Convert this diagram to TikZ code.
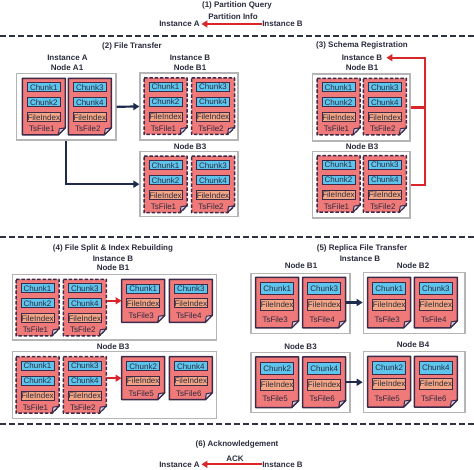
\documentclass[tikz,border=0pt]{standalone}
\usepackage{fontspec}
\setmainfont{Liberation Sans}
\usetikzlibrary{arrows.meta}
\definecolor{navy}{HTML}{1F2B4D}
\definecolor{txt}{HTML}{2A2B3D}
\definecolor{sepc}{HTML}{2D3142}
\definecolor{fileborder}{HTML}{3B2A48}
\definecolor{filefill}{HTML}{F07A7A}
\definecolor{foldfill}{HTML}{D9CBE3}
\definecolor{chunkblue}{HTML}{5EC6EE}
\definecolor{idxfill}{HTML}{F4A584}
\definecolor{redc}{HTML}{D9262B}
\definecolor{boxgray}{HTML}{B5B5B5}
\tikzset{
  ttl/.style={font=\bfseries\fontsize{8}{9}\selectfont, text=txt, inner sep=0pt},
  nodebox/.style={draw=boxgray, line width=1.2pt, fill=white, inner sep=0pt},
  fileshape/.style={draw=fileborder, fill=filefill, line width=1.5pt, line join=round},
  dashedfile/.style={dash pattern=on 3.5pt off 1.8pt},
  solidfile/.style={},
  foldstyle/.style={fill=foldfill, draw=fileborder, line width=1pt, line join=round},
  fileanchor/.style={inner sep=0pt, minimum width=43pt},
  chunkbox/.style={draw=fileborder, fill=chunkblue, line width=1pt, minimum width=33pt, minimum height=9pt, inner sep=0pt, font=\fontsize{8}{8}\selectfont, text=txt},
  idxbox/.style={chunkbox, fill=idxfill},
  tsl/.style={inner sep=0pt, font=\fontsize{8}{8}\selectfont, text=txt},
  navyarrow/.style={draw=navy, line width=2.2pt, -{Triangle[length=6pt,width=7pt]}},
  redarrow/.style={draw=redc, line width=2.2pt, -{Triangle[length=6pt,width=7pt]}},
  redline/.style={draw=redc, line width=2.2pt},
  sepline/.style={draw=sepc, line width=2pt, dash pattern=on 6pt off 3pt},
}
% generic document shape: name, x, y, height, style
\newcommand{\docshape}[5]{%
  \path[fileshape,#5] (#2,#3) -- ++(43,0) -- ++(0,#4-7) -- ++(-7,7) -- ++(-36,0) -- cycle;
  \path[foldstyle] (#2+43,#3+#4-7) -- (#2+36,#3+#4) -- (#2+37,#3+#4-6) -- cycle;
  \node[fileanchor, minimum height=#4pt] (#1) at (#2+21.5,#3+#4/2) {};
}
% full file: name, x, y, style, chunkA, chunkB, label
\newcommand{\fullfile}[7]{%
  \docshape{#1}{#2}{#3}{56.5}{#4}
  \node[chunkbox] (#1a) at (#2+21.5,#3+9) {#5};
  \node[chunkbox] (#1b) at (#2+21.5,#3+24) {#6};
  \node[idxbox] (#1i) at (#2+21.5,#3+39) {FileIndex};
  \node[tsl] (#1t) at (#2+19.5,#3+50.5) {#7};
}
% split file (section 4): name, x, y, chunk, label
\newcommand{\splitfile}[5]{%
  \docshape{#1}{#2}{#3}{43}{solidfile}
  \node[chunkbox] (#1a) at (#2+21.5,#3+9.5) {#4};
  \node[idxbox] (#1i) at (#2+21.5,#3+24) {FileIndex};
  \node[tsl] (#1t) at (#2+19.5,#3+36.5) {#5};
}
% replica file (section 5): name, x, y, chunk, label
\newcommand{\repfile}[5]{%
  \docshape{#1}{#2}{#3}{50.5}{solidfile}
  \node[chunkbox, minimum height=12pt] (#1a) at (#2+21.5,#3+11.5) {#4};
  \node[idxbox, minimum height=11pt] (#1i) at (#2+21.5,#3+27.5) {FileIndex};
  \node[tsl] (#1t) at (#2+19.5,#3+42) {#5};
}
\begin{document}
\begin{tikzpicture}[x=1pt,y=-1pt]
\useasboundingbox (0,0) rectangle (474,470);

% ---------- (1) ----------
\node[ttl] (t1) at (237,5.5) {(1) Partition Query};
\node[ttl] (pinfo) at (233,16.5) {Partition Info};
\node[ttl] (p1a) at (179.5,24) {Instance A};
\node[ttl] (p1b) at (282.5,24) {Instance B};
\draw[redarrow] (p1b.west) -- ([xshift=1.5pt]p1a.east);
\draw[sepline] (0,36) -- (474,36);

% ---------- (2) ----------
\node[ttl] (t2) at (132,46) {(2) File Transfer};
\node[ttl] (s2ia) at (67.5,58) {Instance A};
\node[ttl] (s2na) at (67,68) {Node A1};
\node[ttl] (s2ib) at (190,58) {Instance B};
\node[ttl] (s2nb1) at (190,68) {Node B1};
\node[ttl] (s2nb3) at (190,147) {Node B3};
\node[nodebox, minimum width=99.3pt, minimum height=66.5pt] (a1) at (66.35,106.75) {};
\node[nodebox, minimum width=98pt, minimum height=67pt] (b1) at (189,106.5) {};
\node[nodebox, minimum width=98pt, minimum height=65pt] (b3) at (189,184.2) {};
\fullfile{s2fa}{22.3}{78.3}{solidfile}{Chunk1}{Chunk2}{TsFile1}
\fullfile{s2fb}{68.3}{78.3}{solidfile}{Chunk3}{Chunk4}{TsFile2}
\fullfile{s2fc}{144}{78}{dashedfile}{Chunk1}{Chunk2}{TsFile1}
\fullfile{s2fd}{191.5}{78}{dashedfile}{Chunk3}{Chunk4}{TsFile2}
\fullfile{s2fe}{144}{156.2}{dashedfile}{Chunk1}{Chunk2}{TsFile1}
\fullfile{s2ff}{191.5}{156.2}{dashedfile}{Chunk3}{Chunk4}{TsFile2}
\draw[navyarrow] (a1.east) -- (b1.west);
\draw[navyarrow] (a1.south) |- (b3.west);

% ---------- (3) ----------
\node[ttl] (t3) at (362,45) {(3) Schema Registration};
\node[ttl] (s3ib) at (362,57.7) {Instance B};
\node[ttl] (s3nb1) at (362,68) {Node B1};
\node[ttl] (s3nb3) at (362,146.7) {Node B3};
\node[nodebox, minimum width=97.3pt, minimum height=67pt] (s3b1) at (361.35,107.5) {};
\node[nodebox, minimum width=97.3pt, minimum height=66.3pt] (s3b3) at (361.35,184.85) {};
\fullfile{s3fa}{317}{78.3}{dashedfile}{Chunk1}{Chunk2}{TsFile1}
\fullfile{s3fb}{363.3}{78.3}{dashedfile}{Chunk3}{Chunk4}{TsFile2}
\fullfile{s3fc}{317}{155.7}{dashedfile}{Chunk1}{Chunk2}{TsFile1}
\fullfile{s3fd}{363.3}{155.7}{dashedfile}{Chunk3}{Chunk4}{TsFile2}
\coordinate (r3) at (425,57.7);
\draw[redline] (s3b1.east) -- (s3b1.east -| r3);
\draw[redarrow] (s3b3.east) -| (r3) -- ([xshift=4pt]s3ib.east);
\draw[sepline] (0,237) -- (474,237);

% ---------- (4) ----------
\node[ttl] (t4) at (113,248) {(4) File Split \& Index Rebuilding};
\node[ttl] (s4ib) at (113,259) {Instance B};
\node[ttl] (s4nb1) at (113,268) {Node B1};
\node[ttl] (s4nb3) at (113,347) {Node B3};
\node[nodebox, minimum width=204pt, minimum height=65.7pt] (s4b1) at (114.7,307.15) {};
\node[nodebox, minimum width=204pt, minimum height=66.6pt] (s4b3) at (114.7,385) {};
\fullfile{s4fa}{16}{279.3}{dashedfile}{Chunk1}{Chunk2}{TsFile1}
\fullfile{s4fb}{63.3}{279.3}{dashedfile}{Chunk3}{Chunk4}{TsFile2}
\splitfile{s4fc}{121.7}{279.3}{Chunk1}{TsFile3}
\splitfile{s4fd}{169.3}{279.3}{Chunk3}{TsFile4}
\fullfile{s4fe}{16}{356.7}{dashedfile}{Chunk1}{Chunk2}{TsFile1}
\fullfile{s4ff}{63.3}{356.7}{dashedfile}{Chunk3}{Chunk4}{TsFile2}
\splitfile{s4fg}{121.7}{356.7}{Chunk2}{TsFile5}
\splitfile{s4fh}{169.3}{356.7}{Chunk4}{TsFile6}
\draw[redarrow] (s4fc.west -| s4fb.east) -- (s4fc.west);
\draw[redarrow] (s4fg.west -| s4ff.east) -- (s4fg.west);

% ---------- (5) ----------
\node[ttl] (t5) at (362,248) {(5) Replica File Transfer};
\node[ttl] (s5ib) at (360,259) {Instance B};
\node[ttl] (s5nb1) at (301,266) {Node B1};
\node[ttl] (s5nb2) at (413,266) {Node B2};
\node[ttl] (s5nb3) at (300.5,346.5) {Node B3};
\node[ttl] (s5nb4) at (413,345) {Node B4};
\node[nodebox, minimum width=99pt, minimum height=60pt] (s5b1) at (300.5,303.3) {};
\node[nodebox, minimum width=101.7pt, minimum height=60.6pt] (s5b2) at (414.15,303) {};
\node[nodebox, minimum width=99pt, minimum height=60pt] (s5b3) at (300.5,382.7) {};
\node[nodebox, minimum width=101.7pt, minimum height=61pt] (s5b4) at (414.15,382.2) {};
\repfile{s5fa}{255.7}{277.3}{Chunk1}{TsFile3}
\repfile{s5fb}{302.7}{277.3}{Chunk3}{TsFile4}
\repfile{s5fc}{367.7}{277.3}{Chunk1}{TsFile3}
\repfile{s5fd}{414.3}{277.3}{Chunk3}{TsFile4}
\repfile{s5fe}{255.7}{357}{Chunk2}{TsFile5}
\repfile{s5ff}{302.7}{357}{Chunk4}{TsFile6}
\repfile{s5fg}{367.7}{356.5}{Chunk2}{TsFile5}
\repfile{s5fh}{414.3}{356.5}{Chunk4}{TsFile6}
\draw[navyarrow] (s5fb.east) -- (s5fb.east -| s5b2.west);
\draw[navyarrow] (s5ff.east) -- (s5ff.east -| s5b4.west);
\draw[sepline] (0,424) -- (474,424);

% ---------- (6) ----------
\node[ttl] (t6) at (237,444) {(6) Acknowledgement};
\node[ttl] (ack) at (235,458.5) {ACK};
\node[ttl] (p6a) at (179.5,464.3) {Instance A};
\node[ttl] (p6b) at (282.5,464.3) {Instance B};
\draw[redarrow] (p6b.west) -- ([xshift=1.5pt]p6a.east);
\end{tikzpicture}
\end{document}
